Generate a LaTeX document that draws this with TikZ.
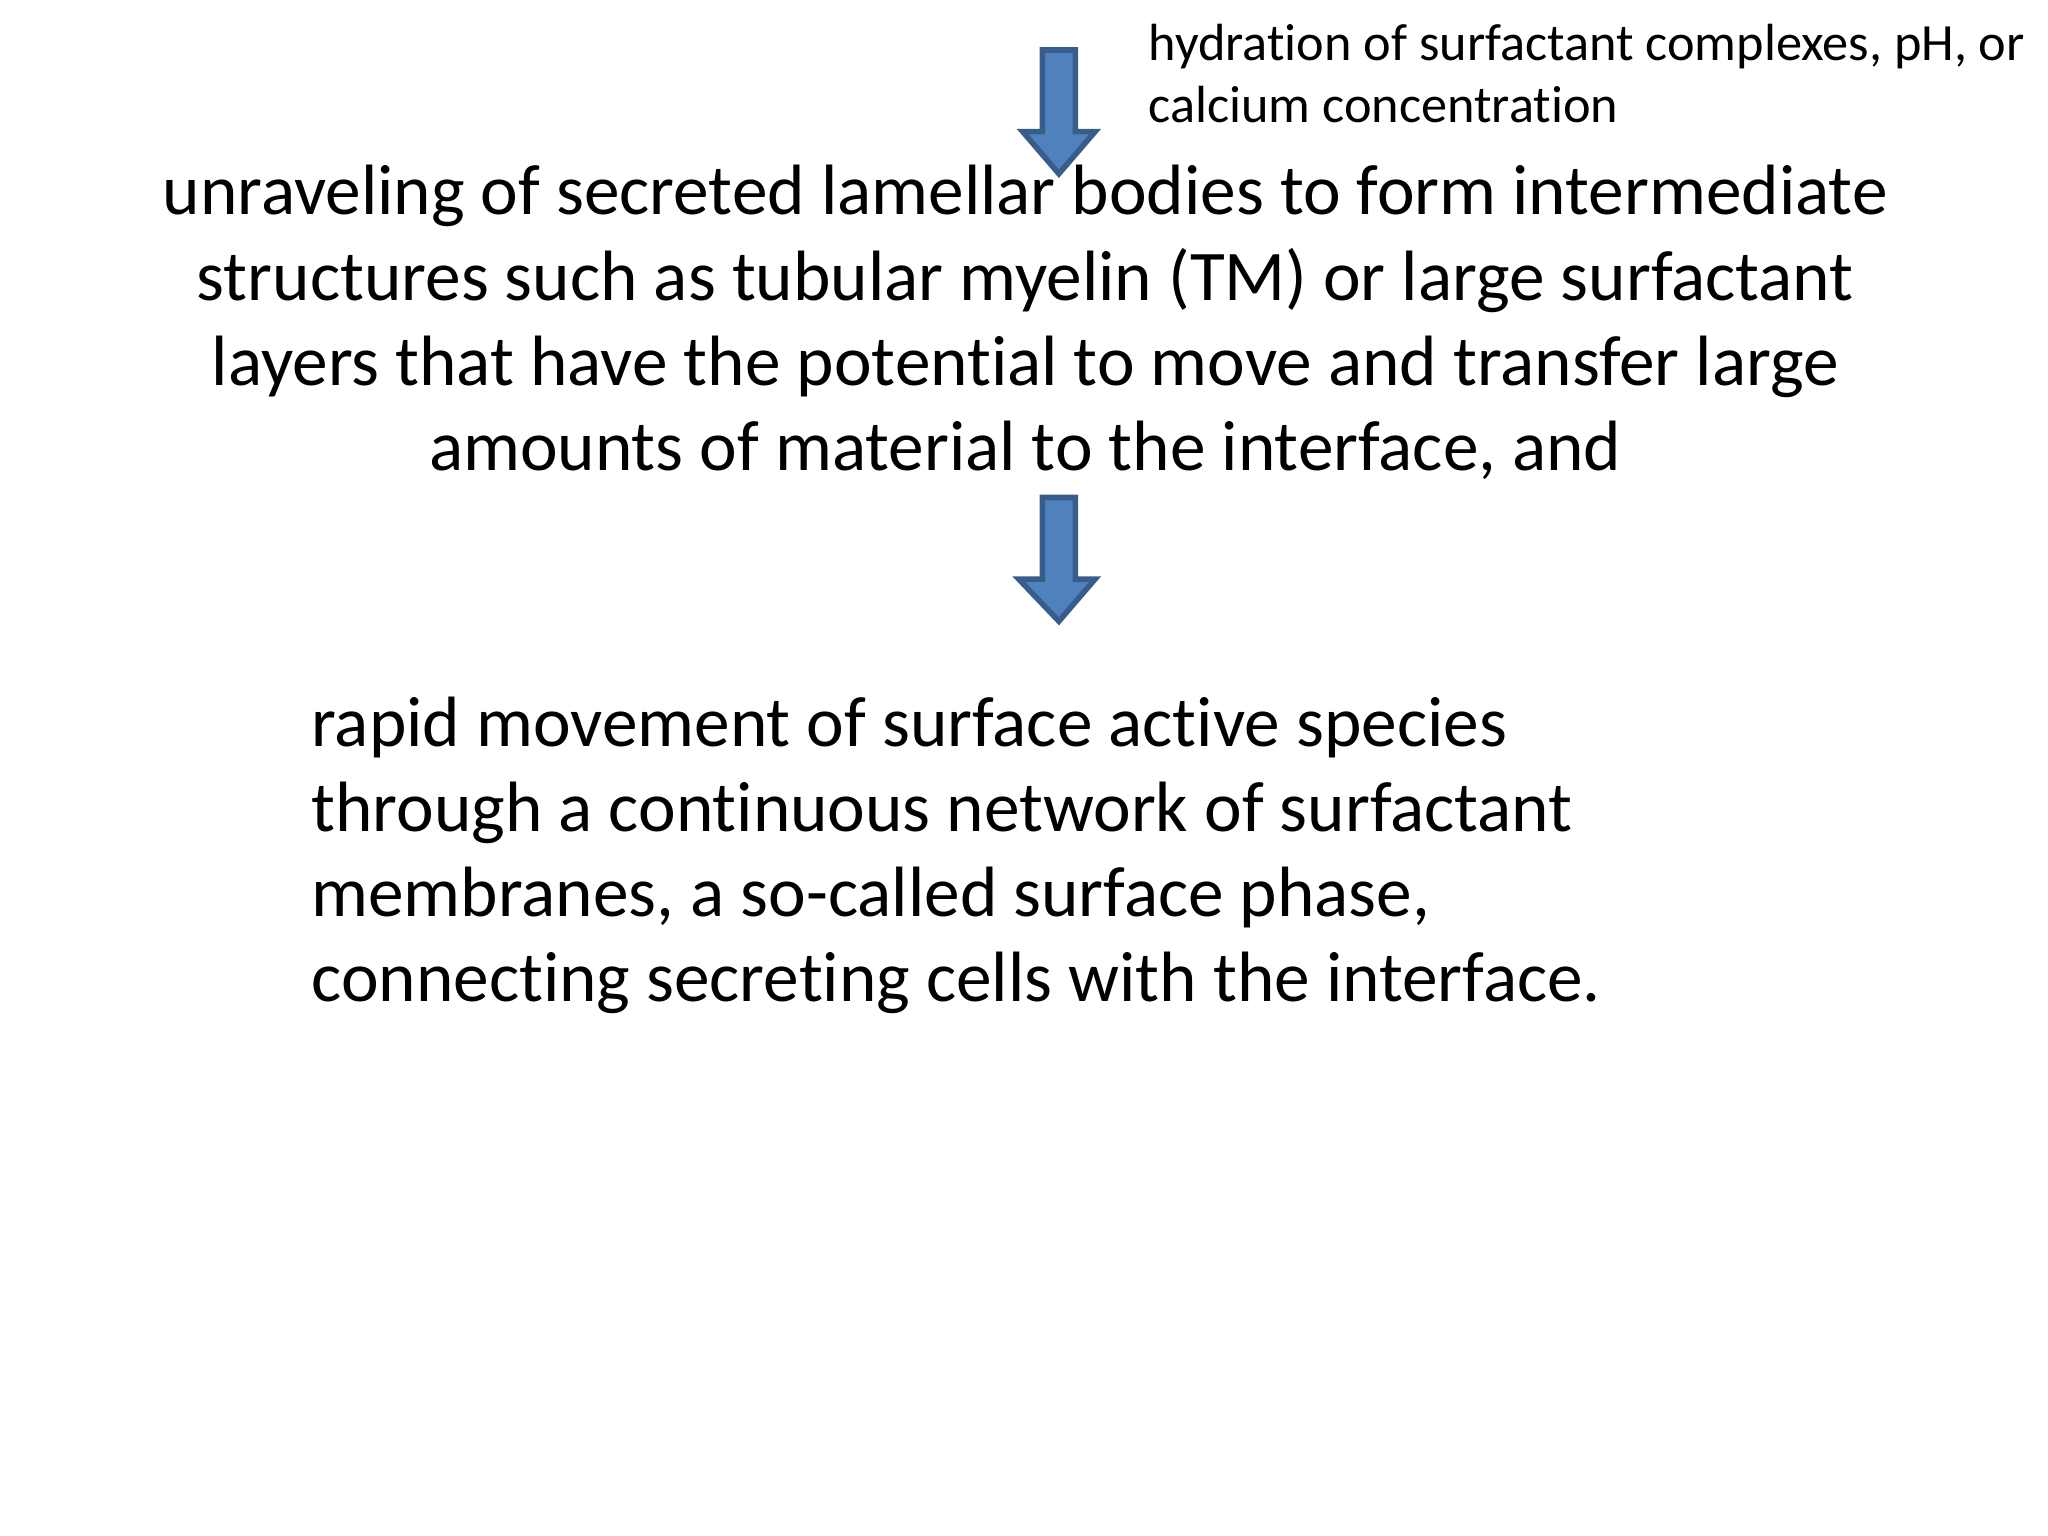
\documentclass[tikz,border=0pt]{standalone}
\usepackage{fontspec}
\setmainfont[RawFeature=-liga]{Carlito}
\definecolor{arrfill}{HTML}{4F81BD}
\definecolor{arredge}{HTML}{385D8A}
\begin{document}
\begin{tikzpicture}[x=0.01cm,y=-0.01cm,
  blockarrow/.style={fill=arrfill,draw=arredge,line width=1.2pt,line join=miter},
  bigtext/.style={font=\fontsize{15.4}{18.4}\selectfont},
  smalltext/.style={font=\fontsize{11.3}{13.3}\selectfont}]
\useasboundingbox (0,0) rectangle (1556,1167);
\node[smalltext,anchor=west,align=left,inner sep=0] (cond) at (872,56) {hydration of surfactant complexes, pH, or\\calcium concentration};
\draw[blockarrow] (792,38) -- (817,38) -- (817,100) -- (832,100) -- (804.5,132) -- (777,100) -- (792,100) -- cycle;
\node[bigtext,align=center,inner sep=0] (unravel) at (779,245) {unraveling of secreted lamellar bodies to form intermediate\\structures such as tubular myelin (TM) or large surfactant\\layers that have the potential to move and transfer large\\amounts of material to the interface, and};
\draw[blockarrow] (792,378) -- (817,378) -- (817,440) -- (832,440) -- (804.5,472) -- (774,440) -- (792,440) -- cycle;
\node[bigtext,anchor=west,align=left,inner sep=0] (rapid) at (236,650) {rapid movement of surface active species\\through a continuous network of surfactant\\membranes, a so-called surface phase,\\connecting secreting cells with the interface.};
\end{tikzpicture}
\end{document}
